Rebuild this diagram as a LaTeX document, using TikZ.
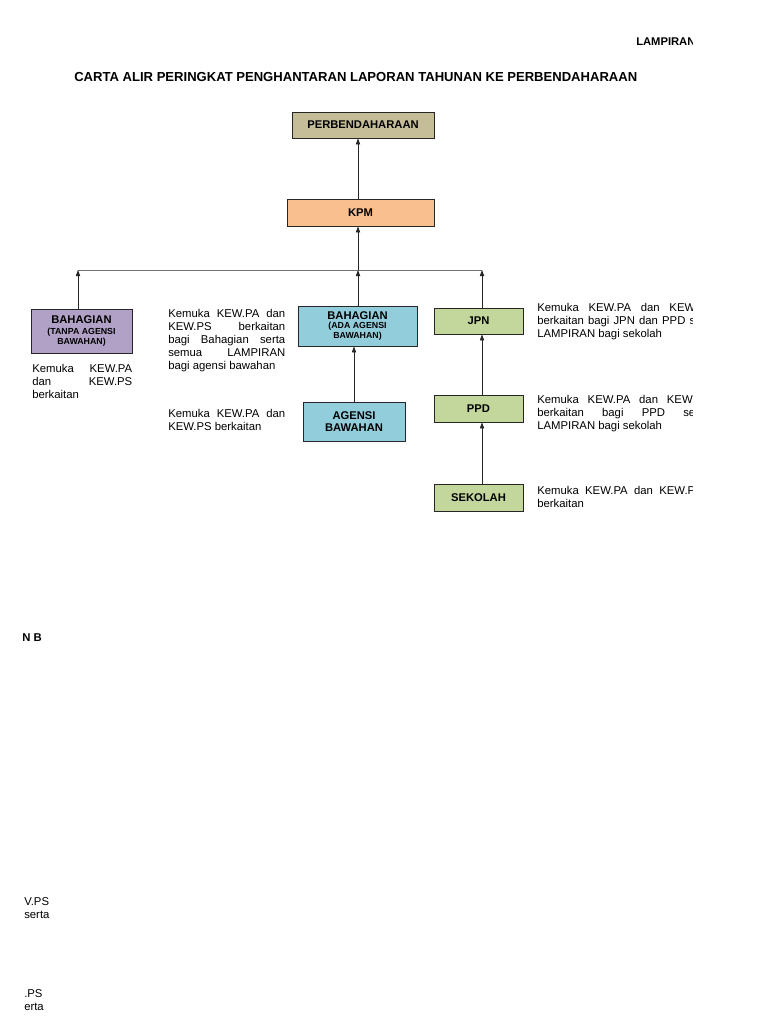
\documentclass[tikz,border=0pt]{standalone}
\usepackage{fontspec}
\setmainfont{Liberation Sans}
\usetikzlibrary{arrows.meta}
\definecolor{perbentan}{RGB}{196,189,151}
\definecolor{kpmorange}{RGB}{250,191,143}
\definecolor{bhglavender}{RGB}{178,161,199}
\definecolor{bhgblue}{RGB}{146,205,220}
\definecolor{jpngreen}{RGB}{195,214,155}
\newcommand\boxsub[1]{{\fontsize{6.6}{7}\selectfont #1}}

\begin{document}
\begin{tikzpicture}[x=0.75pt, y=-0.75pt,
        box/.style={draw=black!85, line width=0.6pt, inner sep=0pt, align=center, font=\fontsize{8.4}{10}\selectfont\bfseries},
        desc/.style={anchor=base west, inner sep=0pt, align=justify, font=\fontsize{8.5}{9.75}\selectfont},
        heading/.style={anchor=base west, inner sep=0pt, font=\fontsize{9.8}{11}\selectfont\bfseries},
        up/.style={-{Triangle[length=4.5pt,width=3.2pt]}, line width=0.6pt, draw=black!85},
        bus/.style={line width=0.6pt, draw=black!55}
      ]
      \useasboundingbox[fill=white] (0,0) rectangle (768,1024);
      \begin{scope}
        \clip (22,0) rectangle (692,1024);
        % headings
        \node[heading, font=\fontsize{8.4}{10}\selectfont\bfseries] (lampiran) at (636,46) {LAMPIRAN};
        \node[heading] (title) at (74,82) {CARTA ALIR PERINGKAT PENGHANTARAN LAPORAN TAHUNAN KE PERBENDAHARAAN};

        % boxes
        \node[box, fill=perbentan, minimum width=106.5pt, minimum height=19.5pt] (perben) at (363,125) {PERBENDAHARAAN};
        \node[box, fill=kpmorange, minimum width=110.25pt, minimum height=20.25pt] (kpm) at (360.5,212.5) {KPM};
        \node[box, fill=bhglavender, minimum width=75.75pt, minimum height=33pt] (bhgtanpa) at (81.5,331) {BAHAGIAN\\[-1.5pt]\boxsub{(TANPA AGENSI}\\[-2pt]\boxsub{BAWAHAN)}};
        \node[box, fill=bhgblue, minimum width=89.25pt, minimum height=30pt] (bhgada) at (357.5,326) {BAHAGIAN\\[-3pt]\boxsub{(ADA AGENSI}\\[-2.5pt]\boxsub{BAWAHAN)}};
        \node[box, fill=jpngreen, minimum width=66.75pt, minimum height=19.5pt] (jpn) at (478.5,321) {JPN};
        \node[box, fill=bhgblue, minimum width=76.5pt, minimum height=29.25pt] (agensi) at (354,421.5) {AGENSI\\[-0.5pt]BAWAHAN};
        \node[box, fill=jpngreen, minimum width=66.75pt, minimum height=20.25pt] (ppd) at (478.5,408.5) {PPD};
        \node[box, fill=jpngreen, minimum width=66.75pt, minimum height=20.25pt] (sekolah) at (478.5,497.5) {SEKOLAH};

        % connectors
        \coordinate (busL) at (78,270);
        \coordinate (busM) at (358,270);
        \coordinate (busR) at (482,270);
        \draw[bus] (busL) -- (busR);
        \draw[up] (kpm.north -| busM) -- (perben.south -| busM);
        \draw[up] (busM) -- (kpm.south -| busM);
        \draw[up] (bhgtanpa.north -| busL) -- (busL);
        \draw[up] (bhgada.north -| busM) -- (busM);
        \draw[up] (jpn.north -| busR) -- (busR);
        \draw[up] (agensi.north) -- (bhgada.south -| agensi.north);
        \draw[up] (ppd.north -| busR) -- (jpn.south -| busR);
        \draw[up] (sekolah.north -| busR) -- (ppd.south -| busR);

        % descriptions
        \node[desc, text width=75pt] (desctanpa) at (32,372) {Kemuka KEW.PA\linebreak dan KEW.PS\linebreak berkaitan};
        \node[desc, text width=87.75pt] (descada) at (168,317) {Kemuka KEW.PA dan\linebreak KEW.PS berkaitan\linebreak bagi Bahagian serta\linebreak semua LAMPIRAN\linebreak bagi agensi bawahan};
        \node[desc, text width=87.75pt] (descagensi) at (168,417) {Kemuka KEW.PA dan\linebreak KEW.PS berkaitan};
        \node[desc, text width=118.5pt] (descjpn) at (537,311) {Kemuka KEW.PA dan KEW\linebreak berkaitan bagi JPN dan PPD s\linebreak LAMPIRAN bagi sekolah};
        \node[desc, text width=118.5pt] (descppd) at (537,403) {Kemuka KEW.PA dan KEW.\linebreak berkaitan bagi PPD se\linebreak LAMPIRAN bagi sekolah};
        \node[desc, text width=118.5pt] (descsekolah) at (537,494) {Kemuka KEW.PA dan KEW.P\linebreak berkaitan};

        % fragments at the left edge
        \node[heading, font=\fontsize{8.5}{10}\selectfont\bfseries] (fraglamp) at (22,641) {N B};
        \node[desc, text width=30pt, align=left] (fragone) at (24,905) {V.PS\\serta};
        \node[desc, text width=30pt, align=left] (fragtwo) at (24,997) {.PS\\erta};
      \end{scope}
    \end{tikzpicture}
\end{document}
